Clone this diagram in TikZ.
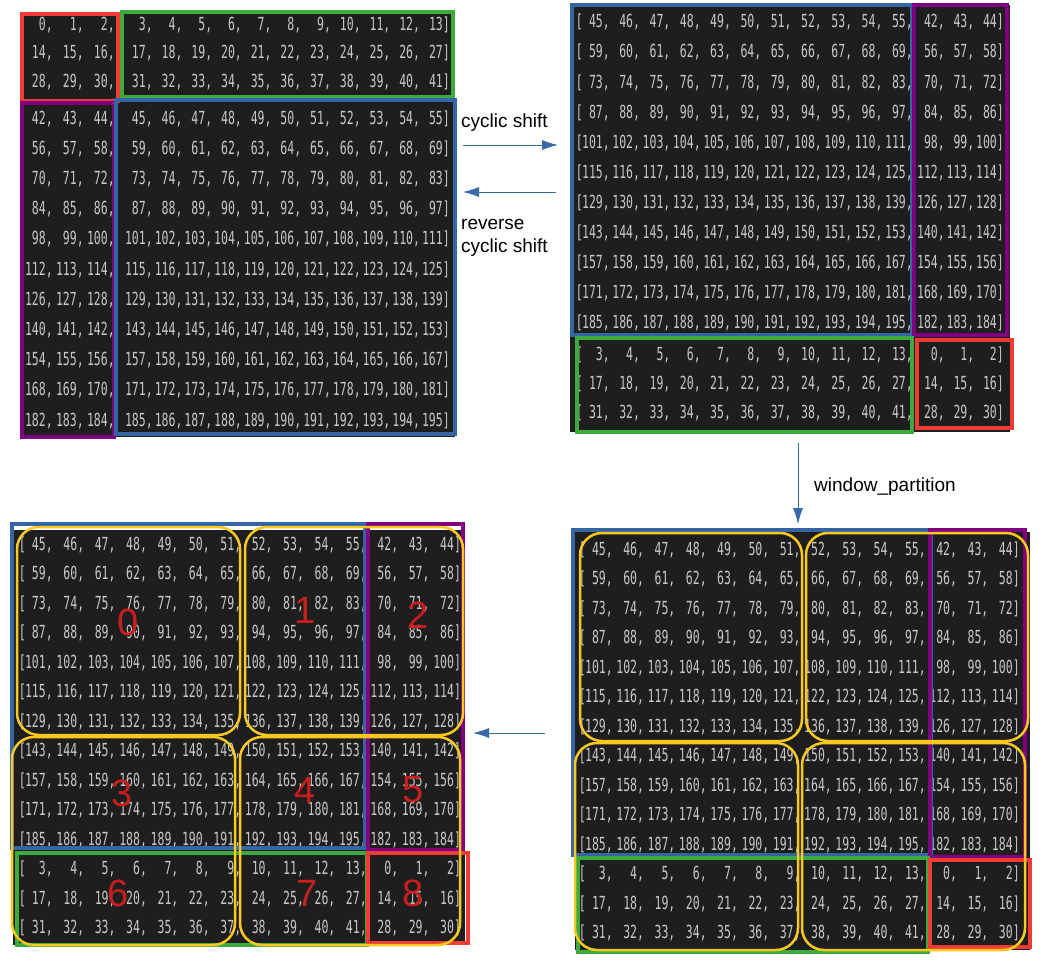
\documentclass[tikz,border=0pt]{standalone}
\usepackage{fontspec}
\setmainfont{Liberation Sans}
\newfontfamily\monof[FakeStretch=0.64]{DejaVu Sans Mono}
\usetikzlibrary{arrows.meta}
\definecolor{bgdark}{RGB}{30,30,30}
\definecolor{numgray}{RGB}{200,200,200}
\definecolor{cblue}{RGB}{52,101,164}
\definecolor{cpurple}{RGB}{128,0,128}
\definecolor{cgreen}{RGB}{61,170,61}
\definecolor{cred}{RGB}{240,60,50}
\definecolor{cyellow}{RGB}{250,200,30}
\definecolor{carrow}{RGB}{56,106,170}
\definecolor{clabel}{RGB}{200,30,30}
\tikzset{
  num/.style={text=numgray,font=\monof\fontsize{18}{18}\selectfont,inner sep=0pt,anchor=base east},
  frame/.style={line width=4pt},
  win/.style={draw=cyellow,line width=2.5pt,rounded corners=22pt},
  flow/.style={draw=carrow,line width=0.9pt,-{Latex[length=16pt,width=10pt]}},
  lbl/.style={font=\fontsize{19}{23}\selectfont,inner sep=0pt,align=left},
  wnum/.style={text=clabel,font=\fontsize{38}{38}\selectfont,inner sep=0pt}
}
\newcommand\mygrid[9]{%
  \foreach \r in {0,...,13}{%
    \foreach \c in {0,...,13}{%
      \pgfmathtruncatemacro\v{#2==1 ? 14*mod(\r+3,14)+mod(\c+3,14) : 14*\r+\c}%
      \pgfmathsetmacro\xx{\c<#5 ? #3+#4*\c : #6+#7*(\c-#5)}%
      \pgfmathsetmacro\yy{\r<\gT ? #8+#9*\r : \gyb+\gdyb*(\r-\gT)}%
      \ifnum\c=13
        \node[num] (#1-\r-\c) at (\xx+13,\yy+7) {\v]};
      \else
        \node[num] (#1-\r-\c) at (\xx+13,\yy+7) {\v,};
      \fi
      \ifnum\c=0 \node[num] (#1-b\r) at (\xx-14,\yy+7) {[};\fi
    }%
  }%
}
\begin{document}
\begin{tikzpicture}[x=1pt,y=-1pt]
\useasboundingbox[fill=white] (0,0) rectangle (1043,966);
% ---------- panel 1
\fill[bgdark] (20,12) rectangle (455,437);
\def\gT{3}\def\gyb{117}\def\gdyb{30.2}
\mygrid{pa}{0}{40}{31}{3}{140}{29.7}{24}{28}
\draw[frame,cred] (22,14) rectangle (118,101);
\draw[frame,cgreen] (122,12) rectangle (453,97);
\draw[frame,cpurple] (22,103) rectangle (114,437);
\draw[frame,cblue] (116,100) rectangle (455,434);
% ---------- panel 2
\fill[bgdark] (570,5) rectangle (1010,432);
\def\gT{11}\def\gyb{353}\def\gdyb{29}
\mygrid{pb}{1}{597}{30.3}{11}{932}{29.5}{21}{30}
\draw[frame,cblue] (572,5) rectangle (912,335);
\draw[frame,cpurple] (914,5) rectangle (1007,335);
\draw[frame,cgreen] (577,338) rectangle (912,432);
\draw[frame,cred] (917,340) rectangle (1012,428);
% ---------- panel 3
\fill[bgdark] (575,532) rectangle (1030,950);
\def\gT{14}\def\gyb{0}\def\gdyb{0}
\mygrid{pc}{1}{600}{31.3}{14}{0}{0}{548}{29.5}
\draw[frame,cblue] (573,530) rectangle (931,855);
\draw[frame,cpurple] (930,530) rectangle (1025,857);
\draw[frame,cgreen] (578,858) rectangle (928,952);
\draw[frame,cred] (930,860) rectangle (1030,947);
\draw[win] (580,533) rectangle (802,741);
\draw[win] (806,533) rectangle (1028,741);
\draw[win] (575,743) rectangle (798,950);
\draw[win] (802,743) rectangle (1025,950);
% ---------- panel 4
\fill[bgdark] (13,530) rectangle (465,945);
\mygrid{pd}{1}{40}{31.4}{14}{0}{0}{543}{29.5}
\draw[frame,cblue] (12,524) rectangle (365,848);
\draw[frame,cpurple] (368,524) rectangle (463,850);
\draw[frame,cgreen] (17,853) rectangle (367,945);
\draw[frame,cred] (368,853) rectangle (468,943);
\draw[win] (17,527) rectangle (240,735);
\draw[win] (245,527) rectangle (463,735);
\draw[win] (12,737) rectangle (235,945);
\draw[win] (240,737) rectangle (460,945);
\node[wnum] (w0) at (128,622) {0};
\node[wnum] (w1) at (305,610) {1};
\node[wnum] (w2) at (418,615) {2};
\node[wnum] (w3) at (122,793) {3};
\node[wnum] (w4) at (305,790) {4};
\node[wnum] (w5) at (413,790) {5};
\node[wnum] (w6) at (118,893) {6};
\node[wnum] (w7) at (307,893) {7};
\node[wnum] (w8) at (413,893) {8};
% ---------- arrows
\coordinate (a1s) at (463,145); \coordinate (a1e) at (558,145);
\coordinate (a2s) at (556,192); \coordinate (a2e) at (463,192);
\coordinate (a3s) at (798,443); \coordinate (a3e) at (798,524);
\coordinate (a4s) at (545,733); \coordinate (a4e) at (473,733);
\draw[flow] (a1s) -- (a1e);
\draw[flow] (a2s) -- (a2e);
\draw[flow] (a3s) -- (a3e);
\draw[flow] (a4s) -- (a4e);
\node[lbl,anchor=west] (t1) at (461,123) {cyclic shift};
\node[lbl,anchor=north west] (t2) at (461,219) {reverse\\cyclic shift};
\node[lbl,anchor=west] (t3) at (814,487) {window\_partition};
\end{tikzpicture}
\end{document}
